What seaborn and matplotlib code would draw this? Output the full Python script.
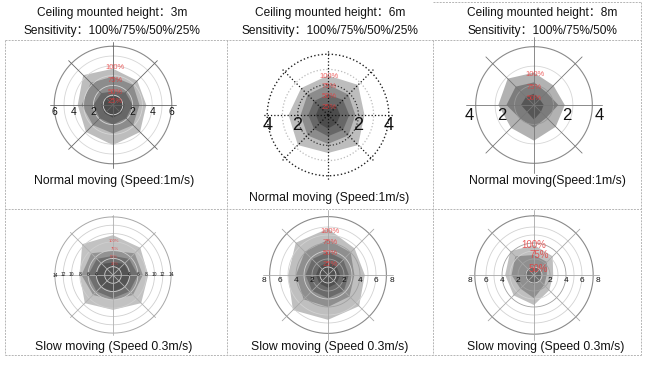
import numpy as np
import matplotlib
matplotlib.use("Agg")
import matplotlib.pyplot as plt
import matplotlib.transforms as mtrans
import seaborn as sns

sns.set_theme(style="white")
plt.rcParams["font.family"] = ["Liberation Sans", "Noto Sans CJK SC", "DejaVu Sans"]

# ---------------- data ----------------
directions = ["N", "NE", "E", "SE", "S", "SW", "W", "NW"]
levels4 = ["100%", "75%", "50%", "25%"]
levels3 = ["100%", "75%", "50%"]

headers = [
    ("Ceiling mounted height：3m", "Sensitivity：100%/75%/50%/25%"),
    ("Ceiling mounted height：6m", "Sensitivity：100%/75%/50%/25%"),
    ("Ceiling mounted height：8m", "Sensitivity：100%/75%/50%"),
]
captions_normal = ["Normal moving (Speed:1m/s)", "Normal moving (Speed:1m/s)", "Normal moving(Speed:1m/s)"]
captions_slow = ["Slow moving (Speed 0.3m/s)"] * 3

# detection range (m) per direction, one list per sensitivity
h3_normal_100 = [3.7, 3.5, 3.4, 3.9, 4.1, 3.9, 3.6, 4.3]
h3_normal_75 = [2.9, 2.9, 2.7, 2.9, 2.9, 2.9, 3.2, 3.2]
h3_normal_50 = [1.4, 1.8, 2.0, 1.9, 2.0, 1.9, 2.0, 1.7]
h3_normal_25 = [0.9, 1.1, 1.2, 1.2, 1.3, 1.2, 1.2, 1.0]

h6_normal_100 = [2.6, 2.8, 2.4, 2.8, 2.5, 2.8, 2.6, 2.5]
h6_normal_75 = [2.0, 1.9, 1.8, 1.9, 1.9, 1.9, 1.8, 1.9]
h6_normal_50 = [1.35, 1.4, 1.4, 1.4, 1.4, 1.3, 1.3, 1.3]
h6_normal_25 = [0.7, 0.8, 0.8, 0.8, 0.9, 0.8, 0.8, 0.8]

h8_normal_100 = [2.0, 1.7, 1.9, 1.9, 2.2, 2.0, 2.2, 2.3]
h8_normal_75 = [1.4, 1.1, 1.5, 1.1, 1.4, 1.2, 1.7, 1.6]
h8_normal_50 = [0.7, 0.5, 0.6, 0.6, 0.9, 0.6, 0.8, 0.7]

h3_slow_100 = [9.6, 9.3, 8.5, 9.6, 8.4, 9.6, 8.0, 10.5]
h3_slow_75 = [5.8, 7.4, 7.2, 6.8, 6.0, 6.8, 7.6, 7.4]
h3_slow_50 = [4.6, 5.5, 6.0, 5.6, 5.6, 5.6, 6.0, 5.5]
h3_slow_25 = [3.0, 3.8, 4.2, 4.0, 4.0, 4.0, 4.2, 3.8]

h6_slow_100 = [5.8, 4.7, 4.6, 5.5, 5.6, 6.2, 5.0, 5.7]
h6_slow_75 = [4.4, 4.0, 3.3, 3.8, 4.0, 4.3, 4.0, 4.1]
h6_slow_50 = [2.9, 2.7, 2.6, 2.8, 2.9, 2.8, 2.8, 2.8]
h6_slow_25 = [1.6, 1.5, 1.5, 1.5, 1.6, 1.5, 1.5, 1.5]

h8_slow_100 = [3.75, 3.3, 2.4, 2.7, 3.75, 3.6, 3.6, 4.2]
h8_slow_75 = [2.5, 2.3, 1.6, 1.8, 2.9, 2.4, 2.8, 3.3]
h8_slow_50 = [1.2, 1.0, 0.9, 1.0, 1.2, 1.1, 1.2, 1.1]

ticks_h3_normal = [2, 4, 6]
ticks_h6_normal = [2, 4]
ticks_h8_normal = [2, 4]
ticks_h3_slow = [4, 6, 8, 10, 12, 14]
ticks_h6_slow = [2, 4, 6, 8]
ticks_h8_slow = [2, 4, 6, 8]

# ---------------- layout ----------------
W, H = 650, 368
fig = plt.figure(figsize=(W / 100, H / 100), dpi=100)
fig.patch.set_facecolor("white")

bg = fig.add_axes([0, 0, 1, 1])
bg.set_xlim(0, W)
bg.set_ylim(H, 0)
bg.axis("off")

dash = dict(color="#b5b5b5", lw=0.7, ls=(0, (2, 1.2)))
for y in (40, 209, 355):
    bg.plot([5, 641], [y, y], **dash)
for x in (5, 227, 433):
    bg.plot([x, x], [40, 355], **dash)
bg.plot([641, 641], [2, 355], **dash)
bg.plot([433, 641], [2, 2], **dash)

col_cx = [112, 330, 542]
for (l1, l2), cx in zip(headers, col_cx):
    bg.text(cx, 13, l1, ha="center", va="center", fontsize=8.6, color="#111")
    bg.text(cx, 31, l2, ha="center", va="center", fontsize=8.6, color="#111")

cap_pos_normal = [(114, 181), (329, 198), (547, 181)]
cap_pos_slow = [(114, 347), (330, 347), (546, 347)]
for t, (x, y) in zip(captions_normal, cap_pos_normal):
    bg.text(x, y, t, ha="center", va="center", fontsize=8.8, color="#111")
for t, (x, y) in zip(captions_slow, cap_pos_slow):
    bg.text(x, y, t, ha="center", va="center", fontsize=8.8, color="#111")

theta = np.deg2rad(np.arange(len(directions)) * 45.0)
tt = np.linspace(0, 2 * np.pi, 361)


def radar(cx, cy, ppu, rmax, series, labels, rings, spoke, tick_vals, tick_fs,
          tick_dy, pct_r, pct_fs, pct_dx, alpha):
    R = rmax * ppu * 1.03
    ax = fig.add_axes([(cx - R) / W, 1 - (cy + R) / H, 2 * R / W, 2 * R / H],
                      projection="polar")
    ax.set_theta_zero_location("N")
    ax.set_theta_direction(-1)
    ax.set_ylim(0, rmax * 1.03)
    ax.axis("off")
    for vals in series:
        v = np.asarray(vals, dtype=float)
        ax.fill(np.append(theta, theta[0]), np.append(v, v[0]), color="black",
                alpha=alpha, lw=0, zorder=2)
    for r, c, lw, ls in rings:
        ax.plot(tt, np.full_like(tt, r), color=c, lw=lw, ls=ls, zorder=3)
    for th in theta:
        ax.plot([th, th], [0, rmax], zorder=3, **spoke)
    off = mtrans.ScaledTranslation(0, -tick_dy / 72, fig.dpi_scale_trans)
    for v in tick_vals:
        for th in (np.pi / 2, 3 * np.pi / 2):
            ax.text(th, v, str(v), transform=ax.transData + off, ha="center",
                    va="center", fontsize=tick_fs, color="#111", zorder=5)
    for lab, r, dx in zip(labels, pct_r, pct_dx):
        o2 = mtrans.ScaledTranslation(dx / 72, 0, fig.dpi_scale_trans)
        ax.text(0, r, lab, transform=ax.transData + o2, ha="center", va="center",
                fontsize=pct_fs, color="#e83a3a", alpha=0.8, zorder=6)
    return ax


light = "#d6d6d6"
mid = "#a8a8a8"
dark = "#8a8a8a"

# 3m normal
radar(113, 105, 9.8, 6.4,
      [h3_normal_100, h3_normal_75, h3_normal_50, h3_normal_25], levels4,
      [(1, light, 0.6, "-"), (2, light, 0.6, "-"), (3, light, 0.6, "-"),
       (4, light, 0.6, "-"), (5, light, 0.6, "-"), (6, dark, 0.8, "-")],
      dict(color="#666666", lw=0.6), ticks_h3_normal, 7.5, 5,
      [3.8, 2.5, 1.25, 0.4], 5.5, [1.5, 1.5, 1.5, 1.5], 0.26)

# 6m normal
radar(328, 115, 15.2, 4.3,
      [h6_normal_100, h6_normal_75, h6_normal_50, h6_normal_25], levels4,
      [(2, "#333333", 0.9, ":"), (3, "#bbbbbb", 0.9, ":"), (4, "#222222", 1.0, ":")],
      dict(color="#111111", lw=0.9, ls=":"), ticks_h6_normal, 13, 7.5,
      [2.5, 1.9, 1.25, 0.5], 5.5, [1.0, 1.0, 1.0, 1.0], 0.26)

# 8m normal
radar(534, 105, 16.2, 4.2,
      [h8_normal_100, h8_normal_75, h8_normal_50], levels3,
      [(1.2, "#999999", 0.6, "-"), (2.4, light, 0.6, "-"), (3.6, dark, 0.8, "-")],
      dict(color="#777777", lw=0.6), ticks_h8_normal, 12, 7.5,
      [1.9, 1.1, 0.4], 5.5, [0.5, 0.5, 0.5], 0.3)

# 3m slow
radar(113, 275, 4.15, 14.5,
      [h3_slow_100, h3_slow_75, h3_slow_50, h3_slow_25], levels4,
      [(r, "#cfcfcf", 0.6, "-") for r in (2, 4, 6, 8, 10, 12)] + [(14, mid, 0.7, "-")],
      dict(color="#b0b0b0", lw=0.6), ticks_h3_slow, 3.5, 0,
      [8.3, 6.2, 4.4, 2.6], 3, [1.0, 1.0, 1.0, 1.0], 0.24)

# 6m slow
radar(328, 275, 8.0, 8.1,
      [h6_slow_100, h6_slow_75, h6_slow_50, h6_slow_25], levels4,
      [(r, "#d2d2d2", 0.6, "-") for r in (1, 3, 5, 6)] +
      [(r, "#a0a0a0", 0.6, "-") for r in (2, 4)] + [(7.3, dark, 0.8, "-")],
      dict(color="#a8a8a8", lw=0.6), ticks_h6_slow, 6, 4,
      [5.4, 4.1, 2.7, 1.25], 5.5, [1.5, 1.5, 1.5, 1.5], 0.25)

# 8m slow
radar(534, 275, 8.0, 8.1,
      [h8_slow_100, h8_slow_75, h8_slow_50], levels3,
      [(r, "#d2d2d2", 0.6, "-") for r in (1, 3, 5, 6)] +
      [(r, "#a0a0a0", 0.6, "-") for r in (2, 4)] + [(7.4, dark, 0.8, "-")],
      dict(color="#a8a8a8", lw=0.6), ticks_h8_slow, 6, 4,
      [3.75, 2.5, 0.8], 7, [0.0, 4.0, 3.0], 0.25)

fig.savefig("out.png", dpi=100, facecolor="white")
